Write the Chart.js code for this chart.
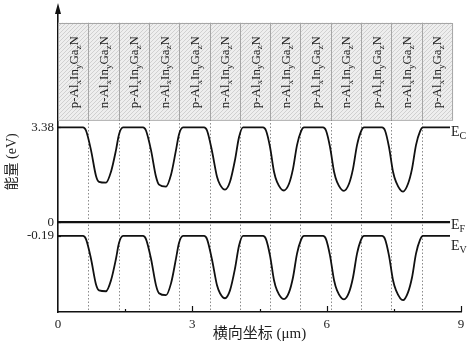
<!DOCTYPE html>
<html lang="zh">
<head>
<meta charset="UTF-8" />
<title>能带示意图</title>
<script src="https://cdn.jsdelivr.net/npm/chart.js"></script>
<style>
  html, body { margin: 0; padding: 0; background: #fff; }
  #wrap { width: 474px; height: 351px; }
</style>
</head>
<body>
<div id="wrap"><canvas id="band" width="474" height="351"></canvas></div>
<script>
// lateral position (um), shared by Ec and Ev
const xPos = [0,
  0.558, 0.625, 0.737, 0.849, 0.916, 1.072, 1.184, 1.295, 1.362, 1.452,
  1.898, 1.965, 2.077, 2.189, 2.256, 2.412, 2.524, 2.635, 2.702, 2.792,
  3.261, 3.328, 3.439, 3.551, 3.618, 3.730, 3.841, 3.953, 4.042, 4.132,
  4.578, 4.645, 4.735, 4.824, 4.891, 5.047, 5.159, 5.248, 5.338, 5.427, 5.494,
  5.918, 5.985, 6.075, 6.165, 6.231, 6.387, 6.499, 6.588, 6.678, 6.767, 6.834,
  7.236, 7.303, 7.392, 7.482, 7.549, 7.705, 7.817, 7.906, 7.995, 8.085, 8.152,
  8.755];
// schematic energy axis (not to scale, like the figure)
const ecVals = [3.38,
  3.38, 3.27, 2.57, 1.65, 1.44, 1.41, 1.80, 2.57, 3.13, 3.38,
  3.38, 3.27, 2.57, 1.62, 1.34, 1.27, 1.69, 2.57, 3.13, 3.38,
  3.38, 3.27, 2.54, 1.62, 1.34, 1.16, 1.44, 2.22, 3.03, 3.38,
  3.38, 3.27, 2.68, 1.80, 1.44, 1.13, 1.37, 1.90, 2.75, 3.24, 3.38,
  3.38, 3.27, 2.68, 1.80, 1.44, 1.12, 1.37, 1.90, 2.75, 3.24, 3.38,
  3.38, 3.27, 2.68, 1.80, 1.44, 1.09, 1.37, 1.90, 2.75, 3.24, 3.38,
  3.38];
const evVals = [-0.49,
  -0.49, -0.60, -1.30, -2.22, -2.43, -2.46, -2.07, -1.30, -0.74, -0.49,
  -0.49, -0.60, -1.30, -2.25, -2.53, -2.60, -2.18, -1.30, -0.74, -0.49,
  -0.49, -0.60, -1.33, -2.25, -2.53, -2.71, -2.43, -1.65, -0.84, -0.49,
  -0.49, -0.60, -1.19, -2.07, -2.43, -2.74, -2.50, -1.97, -1.12, -0.63, -0.49,
  -0.49, -0.60, -1.19, -2.07, -2.43, -2.75, -2.50, -1.97, -1.12, -0.63, -0.49,
  -0.49, -0.60, -1.19, -2.07, -2.43, -2.78, -2.50, -1.97, -1.12, -0.63, -0.49,
  -0.49];
const efX = [0, 8.755];
const efVals = [0, 0];

const layers = ['p', 'n', 'p', 'n', 'p', 'n', 'p', 'n', 'p', 'n', 'p', 'n', 'p'];
const layerEdges = [0, 0.677, 1.354, 2.031, 2.708, 3.385, 4.062, 4.738, 5.415, 6.092, 6.769, 7.446, 8.123, 8.8];

const xMajor = [0, 3, 6, 9];
const xMinor = [1.5, 4.5, 7.5];
const yTickPos = [-0.49, 0, 3.38];
const yTickLabels = ['-0.19', '0', '3.38'];

const SERIF = '"Liberation Serif", "Times New Roman", serif';
const CJK = '"Liberation Serif", "Noto Sans CJK SC", serif';
const boxTop = 7.11, boxBottom = 3.66;

function hatch(ctx) {
  const c = document.createElement('canvas');
  c.width = 4; c.height = 4;
  const g = c.getContext('2d');
  g.fillStyle = '#eeeeee'; g.fillRect(0, 0, 4, 4);
  g.fillStyle = '#d0d0d0';
  g.fillRect(0, 0, 1, 1); g.fillRect(2, 2, 1, 1); g.fillRect(1, 3, 1, 1); g.fillRect(3, 1, 1, 1);
  return ctx.createPattern(c, 'repeat');
}

// text with subscripts, parts = [[text, isSub], ...]
function subText(ctx, parts, x, y, size, center) {
  const big = size + 'px ' + SERIF, small = Math.round(size * 0.68) + 'px ' + SERIF;
  let w = 0;
  parts.forEach(p => { ctx.font = p[1] ? small : big; w += ctx.measureText(p[0]).width; });
  let cx = center ? x - w / 2 : x;
  parts.forEach(p => {
    ctx.font = p[1] ? small : big;
    ctx.fillText(p[0], cx, p[1] ? y + size * 0.22 : y);
    cx += ctx.measureText(p[0]).width;
  });
}

const deco = {
  id: 'deco',
  beforeDatasetsDraw(chart) {
    const { ctx, scales: { x, y } } = chart;
    const top = y.getPixelForValue(boxTop), bot = y.getPixelForValue(boxBottom);
    const x0 = x.getPixelForValue(layerEdges[0]);
    const x1 = x.getPixelForValue(layerEdges[layerEdges.length - 1]);
    ctx.save();
    ctx.fillStyle = hatch(ctx);
    ctx.fillRect(x0, top, x1 - x0, bot - top);
    ctx.strokeStyle = '#a6a6a6';
    ctx.lineWidth = 1;
    ctx.strokeRect(x0 + 0.5, Math.round(top) + 0.5, x1 - x0, bot - top);

    layerEdges.slice(1, -1).forEach(v => {
      const px = Math.round(x.getPixelForValue(v)) + 0.5;
      ctx.setLineDash([]);
      ctx.strokeStyle = '#a6a6a6';
      ctx.beginPath(); ctx.moveTo(px, top); ctx.lineTo(px, bot); ctx.stroke();
      ctx.setLineDash([1.5, 2]);
      ctx.strokeStyle = '#8a8a8a';
      ctx.beginPath(); ctx.moveTo(px, bot); ctx.lineTo(px, y.bottom); ctx.stroke();
    });
    ctx.setLineDash([]);

    // layer names, rotated
    ctx.fillStyle = '#222';
    ctx.textBaseline = 'alphabetic';
    ctx.textAlign = 'left';
    const mid = (top + bot) / 2 + 1;
    layers.forEach((t, i) => {
      const cx = (x.getPixelForValue(layerEdges[i]) + x.getPixelForValue(layerEdges[i + 1])) / 2;
      ctx.save();
      ctx.translate(cx, mid);
      ctx.rotate(-Math.PI / 2);
      subText(ctx, [[t + '-Al', 0], ['x', 1], ['In', 0], ['y', 1], ['Ga', 0], ['z', 1], ['N', 0]], 0, 4.5, 13, true);
      ctx.restore();
    });
    ctx.restore();
  },
  afterDraw(chart) {
    const { ctx, scales: { x, y } } = chart;
    const ax = x.getPixelForValue(0);
    ctx.save();
    ctx.fillStyle = '#111';
    // arrow on the energy axis
    ctx.beginPath();
    ctx.moveTo(ax, 3); ctx.lineTo(ax - 3, 14); ctx.lineTo(ax + 3, 14); ctx.closePath(); ctx.fill();

    ctx.strokeStyle = '#111';
    ctx.lineWidth = 1.2;
    const yb = y.bottom;
    xMajor.slice(1).forEach(v => {
      const px = Math.round(x.getPixelForValue(v)) + 0.5;
      ctx.beginPath(); ctx.moveTo(px, yb); ctx.lineTo(px, yb - 6); ctx.stroke();
    });
    xMinor.forEach(v => {
      const px = Math.round(x.getPixelForValue(v)) + 0.5;
      ctx.beginPath(); ctx.moveTo(px, yb); ctx.lineTo(px, yb - 3); ctx.stroke();
    });
    yTickPos.forEach(v => {
      const py = Math.round(y.getPixelForValue(v)) + 0.5;
      ctx.beginPath(); ctx.moveTo(ax, py); ctx.lineTo(ax + 3, py); ctx.stroke();
    });

    // band names at the right end
    ctx.fillStyle = '#222';
    ctx.textAlign = 'left';
    ctx.textBaseline = 'alphabetic';
    const lx = x.getPixelForValue(efX[1]) + 1;
    [['C', 3.38, 9], ['F', 0, 7], ['V', -0.49, 14]].forEach(b => {
      subText(ctx, [['E', 0], [b[0], 1]], lx, y.getPixelForValue(b[1]) + b[2], 14, false);
    });
    ctx.restore();
  }
};

const line = (xs, ys, w) => ({
  data: xs.map((v, i) => ({ x: v, y: ys[i] })),
  borderColor: '#111',
  borderWidth: w,
  pointRadius: 0,
  fill: false,
  cubicInterpolationMode: 'monotone'
});

new Chart(document.getElementById('band'), {
  type: 'line',
  data: {
    datasets: [
      line(xPos, ecVals, 1.8),
      line(efX, efVals, 2.2),
      line(xPos, evVals, 1.8)
    ]
  },
  options: {
    responsive: false,
    animation: false,
    layout: { padding: { top: 8, right: 13, left: 0, bottom: 0 } },
    plugins: { legend: { display: false }, tooltip: { enabled: false } },
    scales: {
      x: {
        type: 'linear', min: 0, max: 9,
        afterBuildTicks: s => { s.ticks = xMajor.map(v => ({ value: v })); },
        ticks: { font: { family: SERIF, size: 13 }, color: '#222', padding: 5, autoSkip: false, maxRotation: 0 },
        grid: { display: false, drawTicks: false },
        border: { display: true, color: '#111', width: 1.5 },
        title: { display: true, text: '横向坐标 (μm)', font: { family: CJK, size: 15 }, color: '#222', padding: { top: 0, bottom: 8 } },
        afterFit: s => { s.height = 39; }
      },
      y: {
        type: 'linear', min: -3.2, max: 7.5,
        afterBuildTicks: s => { s.ticks = yTickPos.map(v => ({ value: v })); },
        ticks: { font: { family: SERIF, size: 13 }, color: '#222', padding: 4, autoSkip: false,
          callback: (v, i) => yTickLabels[i] },
        grid: { display: false, drawTicks: false },
        border: { display: true, color: '#111', width: 1.6 },
        title: { display: true, text: '能量 (eV)', font: { family: CJK, size: 14 }, color: '#222' },
        afterFit: s => { s.width = 58; }
      }
    }
  },
  plugins: [deco]
});
</script>
</body>
</html>
